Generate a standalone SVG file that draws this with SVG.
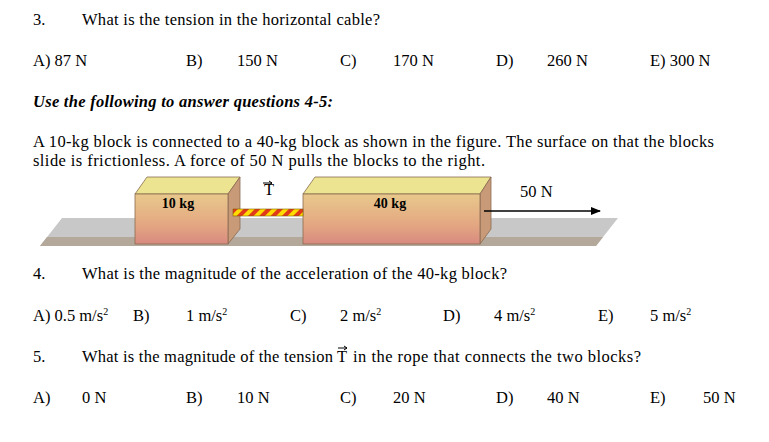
<svg xmlns="http://www.w3.org/2000/svg" width="769" height="442" viewBox="0 0 769 442">
<defs>
<style>
text{font-family:"Liberation Serif","Times New Roman","DejaVu Serif",serif;font-size:16.5px;fill:#000}
.bi{font-weight:bold;font-style:italic}
.lbl{font-weight:bold;font-size:14px}
</style>
<linearGradient id="front" x1="0" y1="0" x2="0" y2="1">
<stop offset="0" stop-color="#e8c88c"/><stop offset="0.6" stop-color="#e4a882"/><stop offset="1" stop-color="#d88a80"/>
</linearGradient>
<pattern id="rope" width="8" height="8" patternUnits="userSpaceOnUse" patternTransform="rotate(45)">
<rect width="8" height="8" fill="#ffdd00"/><rect width="4" height="8" fill="#e03a1a"/>
</pattern>
<marker id="arr" markerWidth="10" markerHeight="8" refX="9" refY="4" orient="auto" markerUnits="userSpaceOnUse">
<path d="M0,0 L10,4 L0,8 z" fill="#000"/>
</marker>
</defs>
<rect width="769" height="442" fill="#fff"/>
<g id="q3">
<text x="33" y="25">3.</text>
<text x="82" y="25" textLength="298">What is the tension in the horizontal cable?</text>
<text x="33" y="66">A) 87 N</text>
<text x="186" y="66">B)</text><text x="237" y="66">150 N</text>
<text x="340" y="66">C)</text><text x="393" y="66">170 N</text>
<text x="496" y="66">D)</text><text x="547" y="66">260 N</text>
<text x="650" y="66">E) 300 N</text>
</g>
<text x="33" y="107" class="bi" textLength="300">Use the following to answer questions 4-5:</text>
<text x="33" y="147" textLength="681">A 10-kg block is connected to a 40-kg block as shown in the figure.  The surface on that the blocks</text>
<text x="33" y="166" textLength="452">slide is frictionless.  A force of 50 N pulls the blocks to the right.</text>
<g id="floor">
<polygon points="62,218 618,218 596,246 40,246" fill="#c8c8c8"/>
<polygon points="47,237 603,237 596,246 40,246" fill="#b4a89a"/>
</g>
<g id="block10">
<polygon points="135,194 147,177 240,177 228,194" fill="#ece490" stroke="#8a6a50" stroke-width="0.8"/>
<polygon points="228,194 240,177 240,229 228,244" fill="#c89a78" stroke="#8a6a50" stroke-width="0.8"/>
<rect x="135" y="194" width="93" height="50" fill="url(#front)" stroke="#8a6a50" stroke-width="0.8"/>
<text x="178" y="208" class="lbl" text-anchor="middle">10 kg</text>
</g>
<g id="block40">
<polygon points="303,194 315,177 491,177 480,194" fill="#ece490" stroke="#8a6a50" stroke-width="0.8"/>
<polygon points="480,194 491,177 491,229 480,244" fill="#c89a78" stroke="#8a6a50" stroke-width="0.8"/>
<rect x="303" y="194" width="177" height="50" fill="url(#front)" stroke="#8a6a50" stroke-width="0.8"/>
<text x="390" y="208" class="lbl" text-anchor="middle">40 kg</text>
</g>
<g id="connectors">
<rect x="233" y="209" width="70" height="7" fill="url(#rope)" stroke="#806000" stroke-width="0.6"/>
<line x1="484" y1="211" x2="600" y2="211" stroke="#000" stroke-width="1.3" marker-end="url(#arr)"/>
</g>
<text x="264" y="195" font-size="14">T</text>
<path d="M263,183 h9 m-3,-2 l3,2 l-3,2" fill="none" stroke="#000" stroke-width="1"/>
<text x="520" y="197">50 N</text>
<g id="q4">
<text x="33" y="279">4.</text>
<text x="82" y="279" textLength="425">What is the magnitude of the acceleration of the 40-kg block?</text>
<text x="33" y="321">A) 0.5 m/s<tspan dy="-6" font-size="10">2</tspan></text>
<text x="133" y="321">B)</text>
<text x="186" y="321">1 m/s<tspan dy="-6" font-size="10">2</tspan></text>
<text x="290" y="321">C)</text>
<text x="340" y="321">2 m/s<tspan dy="-6" font-size="10">2</tspan></text>
<text x="443" y="321">D)</text>
<text x="494" y="321">4 m/s<tspan dy="-6" font-size="10">2</tspan></text>
<text x="598" y="321">E)</text>
<text x="650" y="321">5 m/s<tspan dy="-6" font-size="10">2</tspan></text>
</g>
<g id="q5">
<text x="33" y="362">5.</text>
<text x="82" y="362" textLength="251">What is the magnitude of the tension</text>
<text x="337" y="362">T</text>
<path d="M338,348 h9 m-3,-2 l3,2 l-3,2" fill="none" stroke="#000" stroke-width="1"/>
<text x="353" y="362" textLength="288">in the rope that connects the two blocks?</text>
<text x="33" y="403">A)</text><text x="82" y="403">0 N</text>
<text x="186" y="403">B)</text><text x="237" y="403">10 N</text>
<text x="340" y="403">C)</text><text x="393" y="403">20 N</text>
<text x="496" y="403">D)</text><text x="547" y="403">40 N</text>
<text x="650" y="403">E)</text><text x="703" y="403">50 N</text>
</g>
</svg>
